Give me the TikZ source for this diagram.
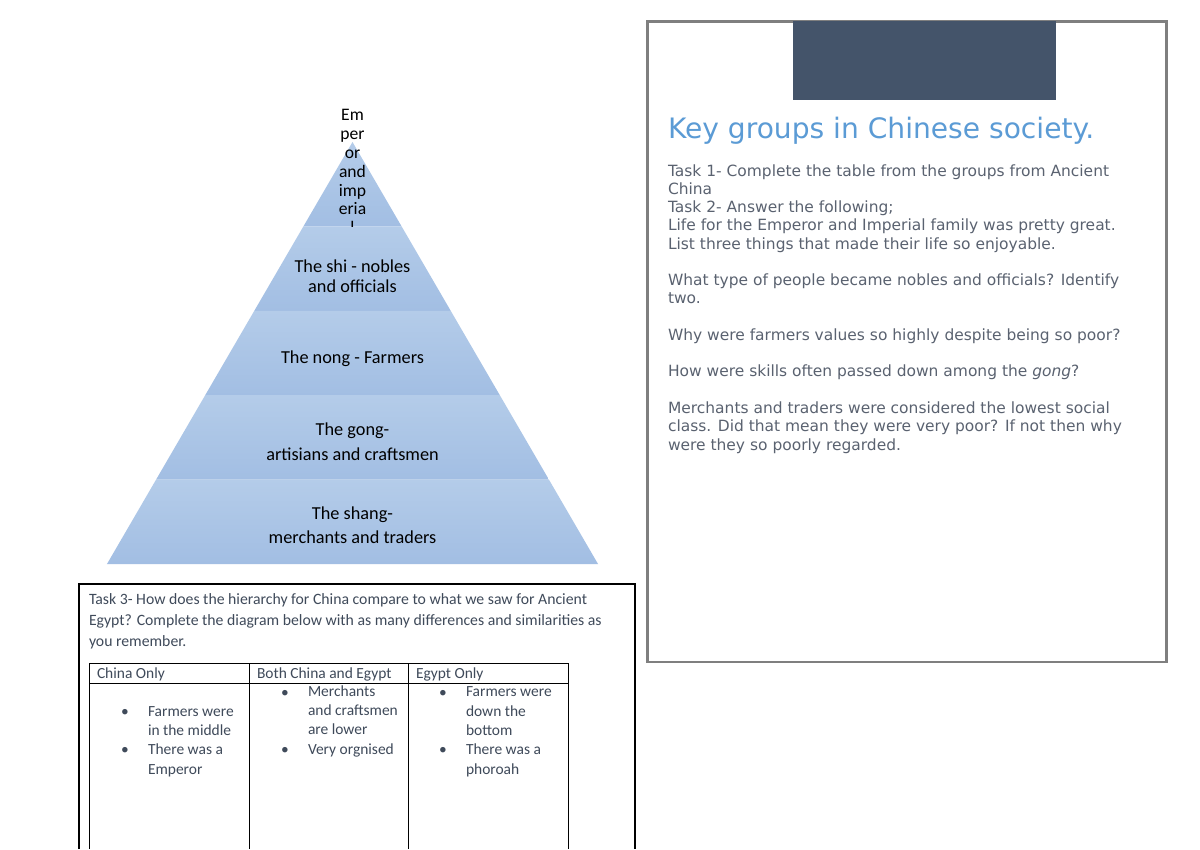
\documentclass[tikz,border=0pt]{standalone}
\usepackage{fontspec}
\setmainfont{Carlito}
\newfontfamily\verdfont{DejaVu Sans}
\usetikzlibrary{positioning}
\definecolor{pyrtop}{HTML}{B4CCE9}
\definecolor{pyrbot}{HTML}{A2BEE3}
\definecolor{panelgray}{HTML}{7F7F7F}
\definecolor{slate}{HTML}{44546A}
\definecolor{titleblue}{HTML}{5B9BD5}
\definecolor{bodygray}{HTML}{5A6270}
\definecolor{tabgray}{HTML}{3F4A5A}

\begin{document}
\begin{tikzpicture}[x=0.025cm, y=-0.025cm,
    every node/.style={inner sep=0pt, outer sep=0pt},
    layer/.style={font=\fontsize{13}{17}\selectfont, align=center},
    body/.style={font=\verdfont\fontsize{11}{12.99}\selectfont, text=bodygray, align=left, anchor=base west},
    task/.style={font=\fontsize{11.2}{14.6}\selectfont, text=tabgray, align=left, anchor=base west},
    cell/.style={font=\fontsize{11}{13.7}\selectfont, text=tabgray, align=left, anchor=base west}
  ]
  \useasboundingbox[fill=white] (0,0) rectangle (1200,849);

  % pyramid, five bands
  \foreach \i in {0,...,4}{
    \pgfmathsetmacro{\ya}{142+84.4*\i}
    \pgfmathsetmacro{\yb}{142+84.4*(\i+1)}
    \pgfmathsetmacro{\wa}{0.5818*84.4*\i}
    \pgfmathsetmacro{\wb}{0.5818*84.4*(\i+1)}
    \shade[top color=pyrtop, bottom color=pyrbot]
      (352.5-\wa,\ya) -- (352.5+\wa,\ya) -- (352.5+\wb,\yb) -- (352.5-\wb,\yb) -- cycle;
  }
  \begin{scope}
    \clip (300,90) rectangle (405,226.4);
    \node[layer, font=\fontsize{12.5}{13.4}\selectfont, anchor=north] (emperor) at (352.5,109.5) {Em\\per\\or\\and\\imp\\eria\\l};
  \end{scope}
  \node[layer, font=\fontsize{13}{14.2}\selectfont] (shi) at (352.5,276) {The shi - nobles\\and officials};
  \node[layer] (nong) at (352.5,359) {The nong - Farmers};
  \node[layer, font=\fontsize{13}{17.7}\selectfont] (gong) at (352.5,441.5) {The gong-\\artisians and craftsmen};
  \node[layer] (shang) at (352.5,525) {The shang-\\merchants and traders};

  % right panel
  \draw[panelgray, line width=1.8pt] (647.5,21.5) rectangle (1166.5,662);
  \fill[slate] (793,21) rectangle (1056,100);
  \node[anchor=base west, font=\verdfont\fontsize{20}{24}\selectfont, text=titleblue] (title) at (668,138) {Key groups in Chinese society.};
  \node[body] (tasks) at (668,450) {Task 1- Complete the table from the groups from Ancient\\
    China\\
    Task 2- Answer the following;\\
    Life for the Emperor and Imperial family was pretty great.\\
    List three things that made their life so enjoyable.\\[12.99pt]
    What type of people became nobles and officials? Identify\\
    two.\\[12.99pt]
    Why were farmers values so highly despite being so poor?\\[12.99pt]
    How were skills often passed down among the \textit{gong}?\\[12.99pt]
    Merchants and traders were considered the lowest social\\
    class. Did that mean they were very poor? If not then why\\
    were they so poorly regarded.};

  % task 3 box and table
  \draw[line width=1.4pt] (79,849) -- (79,584) -- (635,584) -- (635,849);
  \node[task] (task3) at (89,646) {Task 3- How does the hierarchy for China compare to what we saw for Ancient\\
    Egypt? Complete the diagram below with as many differences and similarities as\\
    you remember.};
  \draw[line width=0.6pt] (89,663) -- (568,663) (89,683) -- (568,683);
  \foreach \x in {89,249,408,568}
    \draw[line width=0.6pt] (\x,663) -- (\x,849);
  \node[cell] (hchina) at (97,678) {China Only};
  \node[cell] (hboth) at (257,678) {Both China and Egypt};
  \node[cell] (hegypt) at (416,678) {Egypt Only};
  \foreach \bx/\by [count=\n] in {125/716,125/754,285/697,285/754,443/697,443/754}
    \node[cell, anchor=base] (bul\n) at (\bx,\by) {\textbullet};
  \node[cell] (china) at (148,774) {Farmers were\\in the middle\\There was a\\Emperor};
  \node[cell] (both) at (308,754) {Merchants\\and craftsmen\\are lower\\Very orgnised};
  \node[cell] (egypt) at (466,774) {Farmers were\\down the\\bottom\\There was a\\phoroah};
\end{tikzpicture}
\end{document}
